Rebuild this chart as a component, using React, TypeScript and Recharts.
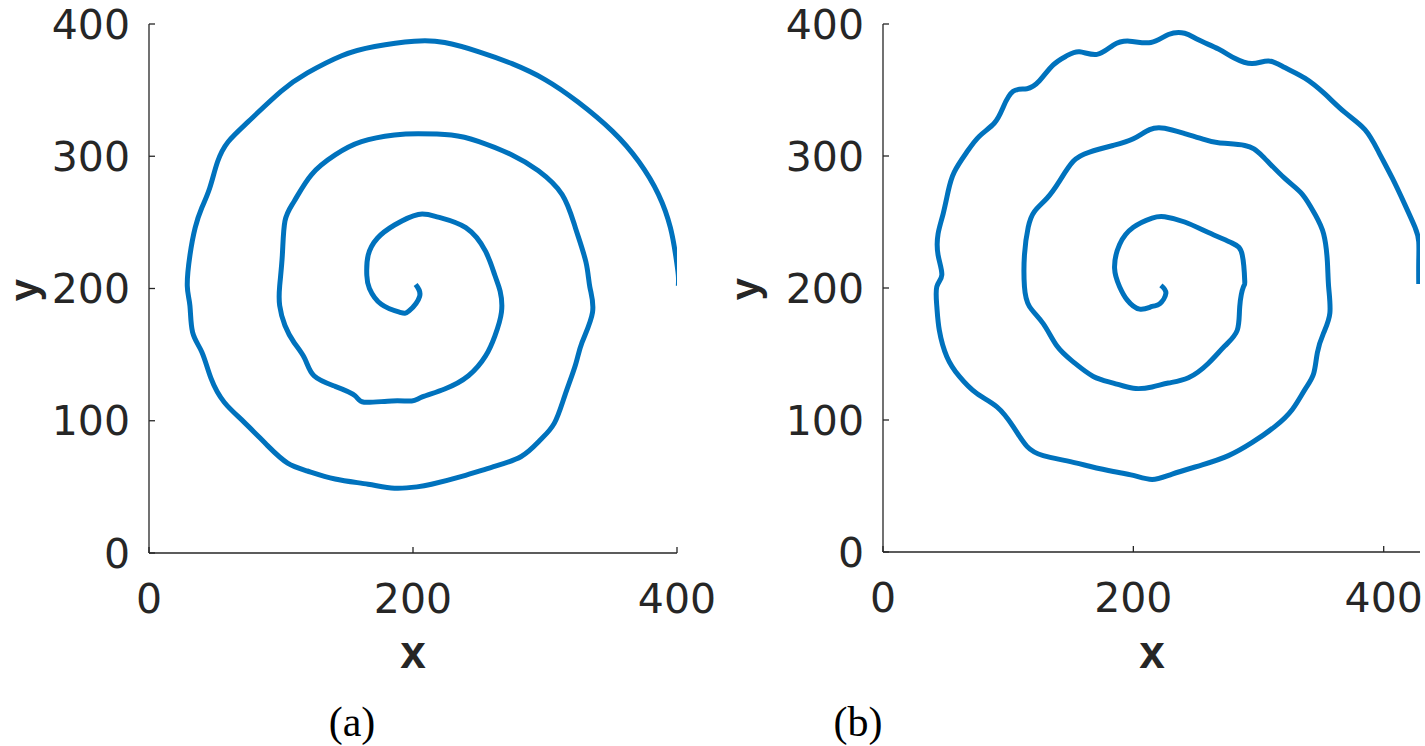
import React from "react";
import { LineChart, Line, XAxis, YAxis } from "recharts";

// spiral (a): points, in drawing order (centre -> outside)
const spiralAX = [
  202, 205, 197, 190, 176, 167, 165, 166, 173, 186, 204, 219, 240, 255, 262, 266,
  267, 262, 255, 242, 224, 207, 199, 184, 163, 156, 141, 125, 118, 110, 103, 99,
  99, 101, 103, 110, 123, 141, 161, 186, 204, 229, 250, 275, 295, 313, 323, 331,
  334, 336, 328, 323, 315, 307, 296, 282, 260, 237, 214, 203, 186, 166, 141, 120,
  105, 90, 72, 57, 47, 40, 33, 31, 29, 31, 35, 40, 46, 52, 60, 75,
  100, 120, 146, 171, 201, 224, 250, 275, 300, 325, 351, 371, 386, 395, 399, 401,
  401,
];
const spiralAY = [
  203, 194, 183, 182, 188, 200, 210, 225, 238, 248, 256, 254, 246, 228, 210, 198,
  182, 164, 149, 134, 124, 118, 115, 115, 114, 119, 126, 134, 147, 159, 172, 187,
  202, 225, 251, 266, 286, 301, 311, 316, 317, 316, 311, 301, 289, 271, 246, 220,
  201, 182, 159, 142, 119, 98, 85, 73, 65, 58, 52, 50, 49, 52, 56, 62,
  68, 81, 99, 114, 132, 152, 167, 187, 202, 225, 246, 261, 276, 296, 311, 326,
  349, 363, 376, 383, 387, 386, 379, 370, 358, 341, 319, 296, 271, 246, 225, 210,
  202,
];

// spiral (b)
const spiralBX = [
  222, 226, 221, 215, 205, 195, 189, 185, 189, 200, 215, 225, 241, 260, 279, 287,
  289, 288, 285, 283, 273, 260, 244, 228, 215, 200, 184, 168, 152, 139, 128, 117,
  113, 113, 116, 121, 131, 141, 152, 165, 184, 200, 213, 225, 241, 255, 268, 289,
  303, 321, 335, 345, 352, 355, 356, 357, 352, 347, 344, 337, 327, 313, 295, 276,
  255, 231, 215, 200, 184, 165, 147, 128, 115, 104, 91, 75, 61, 51, 45, 43,
  43, 47, 44, 44, 48, 52, 57, 67, 77, 89, 96, 104, 115, 125, 136, 147,
  157, 171, 184, 197, 214, 228, 241, 252, 268, 281, 295, 308, 321, 337, 353, 369,
  385, 396, 407, 417, 425, 428, 428, 428,
];
const spiralBY = [
  202, 196, 188, 186, 184, 191, 201, 215, 233, 246, 253, 254, 250, 242, 234, 225,
  205, 201, 186, 168, 156, 143, 132, 128, 125, 124, 128, 133, 144, 156, 173, 186,
  201, 225, 246, 258, 268, 281, 296, 303, 308, 313, 320, 321, 317, 313, 310, 308,
  300, 283, 271, 256, 241, 220, 201, 181, 166, 151, 135, 123, 108, 95, 83, 73,
  66, 59, 55, 58, 61, 65, 69, 73, 80, 95, 110, 120, 133, 148, 168, 186,
  201, 210, 225, 241, 256, 273, 288, 303, 315, 325, 337, 349, 351, 357, 369, 376,
  379, 377, 384, 387, 386, 392, 393, 388, 381, 374, 370, 372, 367, 359, 347, 333,
  320, 303, 283, 263, 246, 235, 220, 203,
];

const ticksX = [0, 200, 400];
const ticksY = [0, 100, 200, 300, 400];

const dataA = spiralAX.map((x, i) => ({ x, y: spiralAY[i] }));
const dataB = spiralBX.map((x, i) => ({ x, y: spiralBY[i] }));

const INK = "#262626";
const tickFont = { fill: INK, fontSize: 41, fontFamily: "DejaVu Sans" };

function SpiralPanel({ data, xMax, width, margin }) {
  return (
    <LineChart width={width} height={640} data={data} margin={margin}>
      <XAxis
        type="number"
        dataKey="x"
        domain={[0, xMax]}
        ticks={ticksX}
        interval={0}
        allowDataOverflow
        height={60}
        tickSize={-6}
        tickMargin={37}
        tick={tickFont}
        stroke={INK}
        strokeWidth={1.3}
      />
      <XAxis
        xAxisId="top"
        orientation="top"
        type="number"
        dataKey="x"
        domain={[0, xMax]}
        ticks={ticksX}
        interval={0}
        allowDataOverflow
        height={0}
        tickSize={-6}
        tick={false}
        stroke={INK}
        strokeWidth={1.3}
      />
      <YAxis
        type="number"
        domain={[0, 400]}
        ticks={ticksY}
        interval={0}
        allowDataOverflow
        width={60}
        tickSize={-6}
        tickMargin={25}
        tick={tickFont}
        stroke={INK}
        strokeWidth={1.3}
      />
      <YAxis
        yAxisId="right"
        orientation="right"
        type="number"
        domain={[0, 400]}
        ticks={ticksY}
        interval={0}
        allowDataOverflow
        width={0}
        tickSize={-6}
        tick={false}
        stroke={INK}
        strokeWidth={1.3}
      />
      <Line
        type="natural"
        dataKey="y"
        stroke="#0072BD"
        strokeWidth={5}
        strokeLinejoin="round"
        dot={false}
        isAnimationActive={false}
      />
    </LineChart>
  );
}

const axisLabel = {
  position: "absolute",
  fontFamily: "Liberation Sans",
  fontWeight: "bold",
  fontSize: 46,
  lineHeight: 1,
  color: INK,
  transform: "translate(-50%, -50%)",
};

const yLabel = {
  ...axisLabel,
  fontSize: 40,
  transform: "translate(-50%, -50%) rotate(-90deg)",
};

const caption = {
  position: "absolute",
  fontFamily: "Liberation Serif",
  fontSize: 42,
  lineHeight: 1,
  color: "#000",
  transform: "translate(-50%, -50%)",
};

export default function App() {
  return (
    <div style={{ position: "absolute", left: 0, top: 0, width: 1425, height: 746, background: "#fff" }}>
      <div style={{ position: "absolute", left: 0, top: 0 }}>
        <SpiralPanel data={dataA} xMax={400} width={720} margin={{ top: 24, right: 43, bottom: 27, left: 89 }} />
      </div>
      <div style={{ position: "absolute", left: 720, top: 0 }}>
        <SpiralPanel data={dataB} xMax={429} width={705} margin={{ top: 24, right: 5, bottom: 28, left: 103 }} />
      </div>

      <div style={{ ...yLabel, left: 24, top: 290 }}>y</div>
      <div style={{ ...axisLabel, left: 413, top: 652 }}>x</div>
      <div style={{ ...yLabel, left: 745, top: 289 }}>y</div>
      <div style={{ ...axisLabel, left: 1152, top: 652 }}>x</div>

      <div style={{ ...caption, left: 352, top: 722 }}>(a)</div>
      <div style={{ ...caption, left: 858, top: 722 }}>(b)</div>
    </div>
  );
}
